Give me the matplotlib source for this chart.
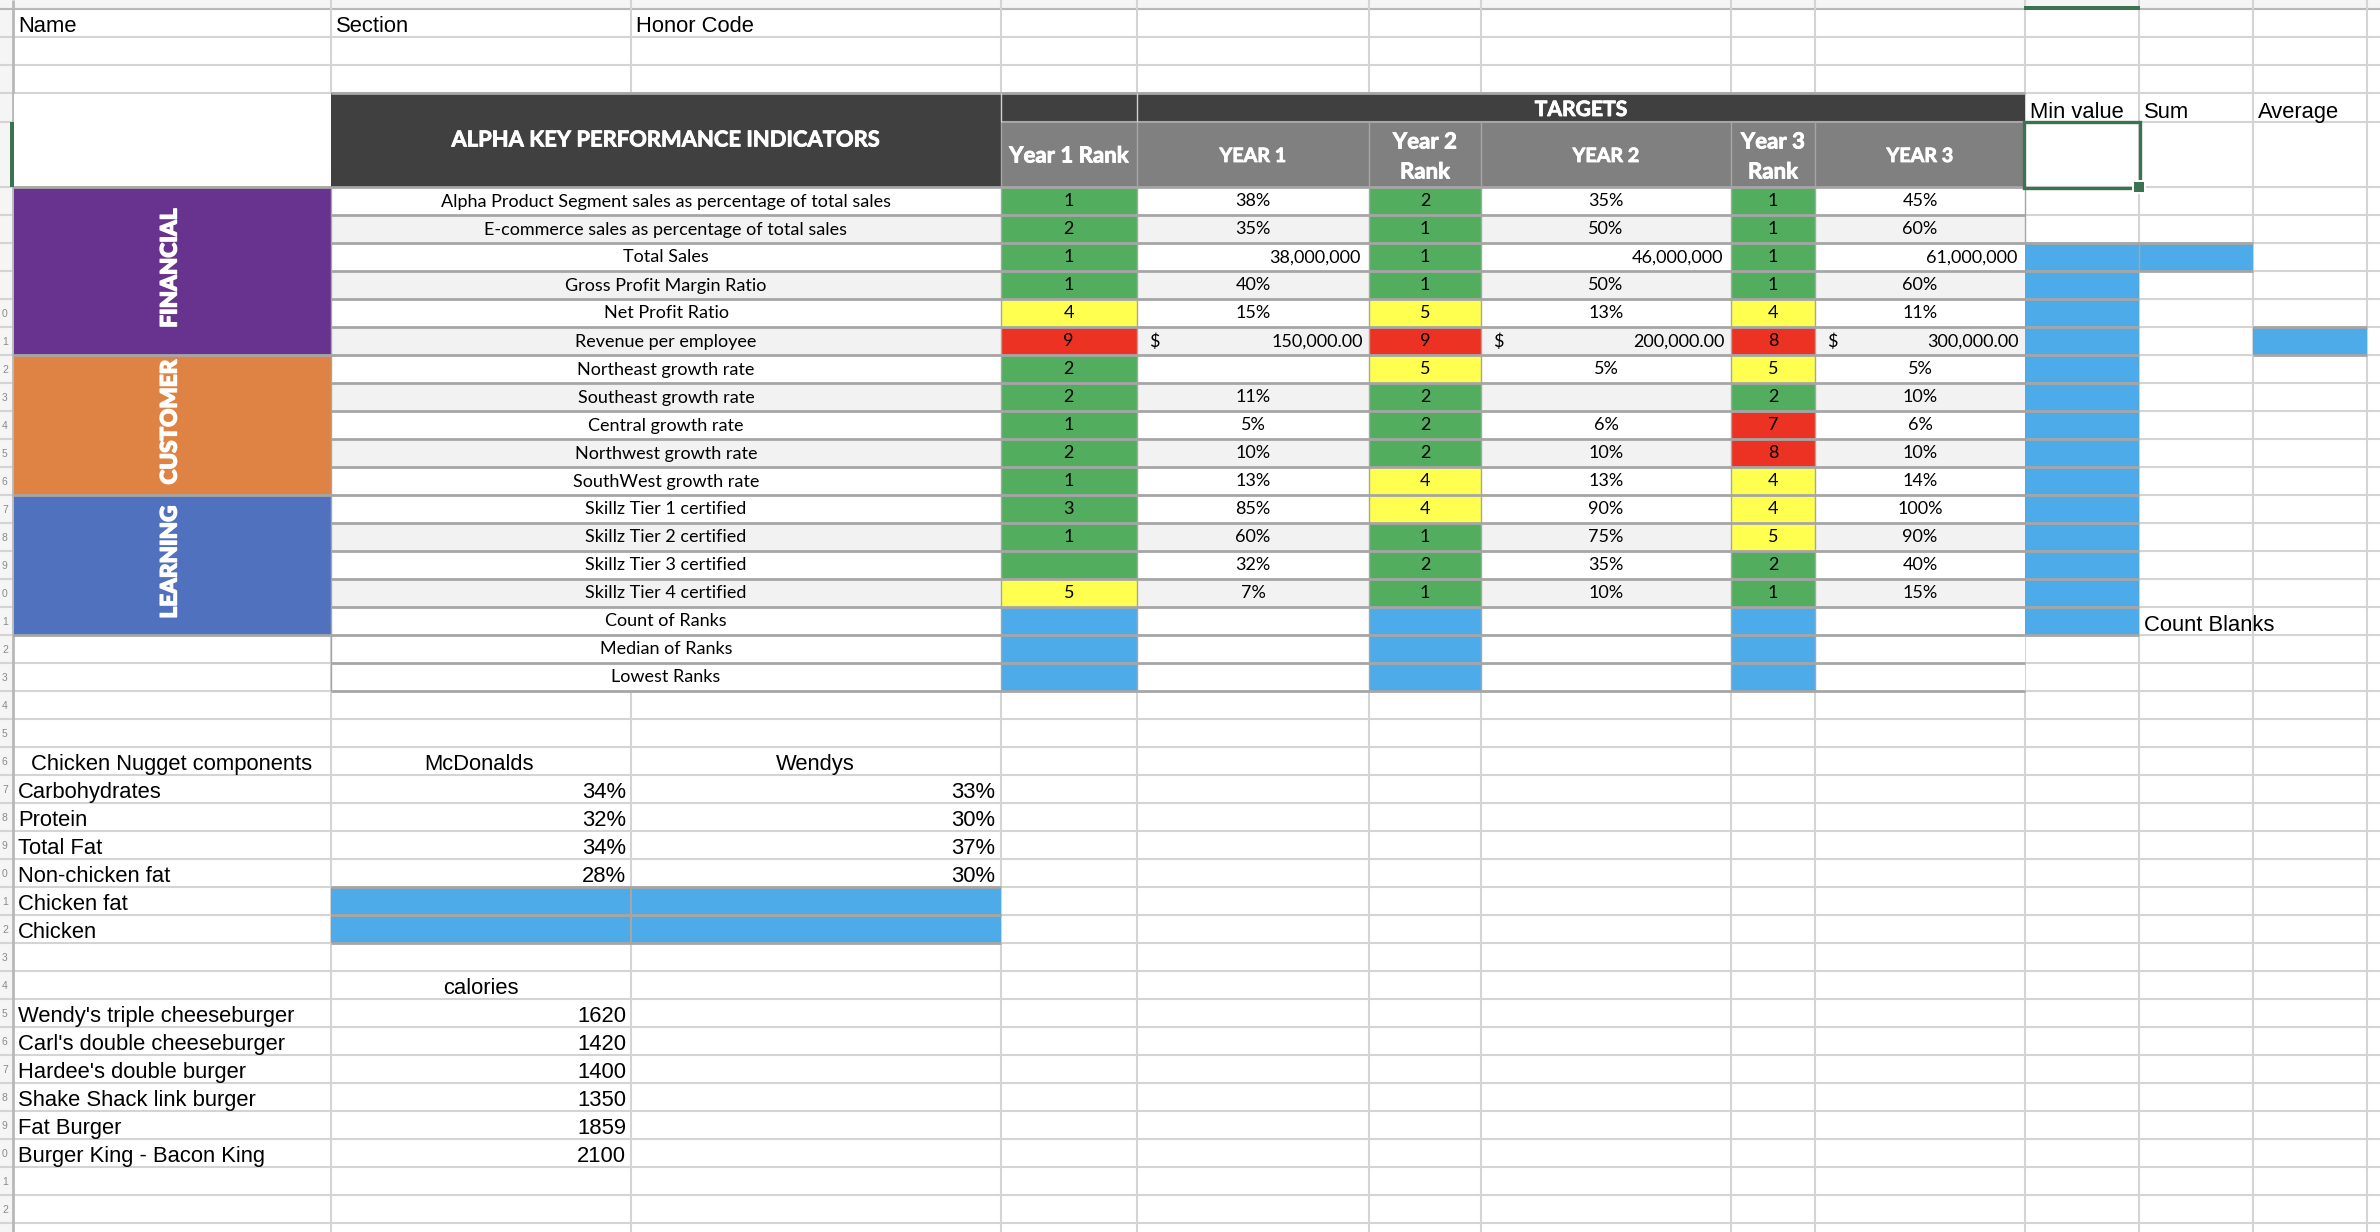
import matplotlib
matplotlib.use("Agg")
import matplotlib.pyplot as plt
import matplotlib.patheffects as pe
from matplotlib.patches import Rectangle

# KPI table
kpi_labels = ["Alpha Product Segment sales as percentage of total sales",
              "E-commerce sales as percentage of total sales",
              "Total Sales", "Gross Profit Margin Ratio", "Net Profit Ratio",
              "Revenue per employee", "Northeast growth rate", "Southeast growth rate",
              "Central growth rate", "Northwest growth rate", "SouthWest growth rate",
              "Skillz Tier 1 certified", "Skillz Tier 2 certified",
              "Skillz Tier 3 certified", "Skillz Tier 4 certified",
              "Count of Ranks", "Median of Ranks", "Lowest Ranks"]
y1_rank = [1, 2, 1, 1, 4, 9, 2, 2, 1, 2, 1, 3, 1, None, 5]
y2_rank = [2, 1, 1, 1, 5, 9, 5, 2, 2, 2, 4, 4, 1, 2, 1]
y3_rank = [1, 1, 1, 1, 4, 8, 5, 2, 7, 8, 4, 4, 5, 2, 1]
y1_vals = ["38%", "35%", "38,000,000", "40%", "15%", "$150,000.00", "", "11%", "5%",
           "10%", "13%", "85%", "60%", "32%", "7%"]
y2_vals = ["35%", "50%", "46,000,000", "50%", "13%", "$200,000.00", "5%", "", "6%",
           "10%", "13%", "90%", "75%", "35%", "10%"]
y3_vals = ["45%", "60%", "61,000,000", "60%", "11%", "$300,000.00", "5%", "10%", "6%",
           "10%", "14%", "100%", "90%", "40%", "15%"]
shaded_rows = [1, 3, 5, 7, 9, 12, 14]

# nugget table
nugget_labels = ["Carbohydrates", "Protein", "Total Fat", "Non-chicken fat", "Chicken fat", "Chicken"]
mcd_pct = ["34%", "32%", "34%", "28%", "", ""]
wendys_pct = ["33%", "30%", "37%", "30%", "", ""]

# burger table
burgers = ["Wendy's triple cheeseburger", "Carl's double cheeseburger", "Hardee's double burger",
           "Shake Shack link burger", "Fat Burger", "Burger King - Bacon King"]
calories = [1620, 1420, 1400, 1350, 1859, 2100]

# column edges in pixels
cols = [13, 331, 631, 1000.5, 1137, 1369, 1481, 1731, 1815, 2025, 2139, 2253, 2367, 2380]
LIGHT, DARK = "#D4D4D4", "#A6A6A6"
GREEN, YELLOW, RED, SKY = "#52AE5E", "#FFFF4F", "#EC3323", "#4EABE9"
SEL = "#3B7350"
ARIAL = "Liberation Sans"
CAL = "Lato"
FS_A, FS_C, FS_H = 15.8, 13, 16


def row_top(n):
    # row 5 is the tall header row
    if n <= 5:
        return [9, 37, 65, 93, 122][n - 1]
    return 187 + (n - 6) * 28


def rank_color(r):
    if r is None or r <= 3:
        return GREEN
    return YELLOW if r <= 6 else RED


fig = plt.figure(figsize=(23.8, 12.32), dpi=100)
ax = fig.add_axes([0, 0, 1, 1])
ax.set_xlim(0, 2380)
ax.set_ylim(1232, 0)
ax.axis("off")


def fill(x0, x1, y0, y1, color, z=3):
    ax.add_patch(Rectangle((x0, y0), x1 - x0, y1 - y0, facecolor=color, edgecolor="none", zorder=z))


def hline(y, x0, x1, color=DARK, lw=2, z=4):
    ax.plot([x0, x1], [y, y], color=color, lw=lw, zorder=z, solid_capstyle="butt")


def vline(x, y0, y1, color=DARK, lw=1, z=4):
    ax.plot([x, x], [y0, y1], color=color, lw=lw, zorder=z, solid_capstyle="butt")


def put(x, y, s, font=CAL, size=FS_C, ha="center", color="black", **kw):
    return ax.text(x, y, s, family=font, fontsize=size, ha=ha, va="center_baseline", color=color, zorder=5, **kw)


def arial(x, y, s, ha="left"):
    put(x, y + 1, s, font=ARIAL, size=FS_A, ha=ha)


def header(x, y, s, size=FS_H):
    # Lato bold is lighter than the original, thicken it a bit
    t = put(x, y, s, size=size, color="white", weight="bold")
    t.set_path_effects([pe.withStroke(linewidth=0.6, foreground="white")])


# sheet chrome
fill(0, 13, 0, 1232, "#F5F5F5", z=1)
fill(0, 2380, 0, 9, "#F5F5F5", z=1)
for n in range(1, 44):
    y = row_top(n)
    hline(y, 0, 2380, color=LIGHT, lw=1.5, z=2)
    if n >= 10:
        # the row header is mostly scrolled away, only the last digit shows
        put(2, y + 14, str(n)[-1], font=ARIAL, size=7.5, ha="left", color="#8A8A8A")
hline(9, 0, 2380, color="#B8B8B8", lw=1.5, z=2)
for x in cols[1:-1]:
    vline(x, 0, 1232, color=LIGHT, lw=1.5, z=2)
vline(13, 0, 1232, color="#B8B8B8", lw=2, z=2)

# merged areas hide the light grid
fill(14, 331, 94, 187, "white")
fill(331, 2025, 187, 691, "white")

# headers
fill(331, 1000.5, 93, 187, "#404040")
fill(1000.5, 2025, 93, 122, "#404040")
fill(1000.5, 2025, 122, 187, "#808080")
hline(93, 331, 2025)
hline(122, 1000.5, 2025, lw=1.5)
vline(1137, 93, 122, color="#D0D0D0")
vline(1000.5, 93, 122, color="#D0D0D0")
for x in [1000.5, 1137, 1369, 1481, 1731, 1815]:
    vline(x, 122, 187)

header(666, 138, "ALPHA KEY PERFORMANCE INDICATORS", size=15.8)
header(1581, 108, "TARGETS", size=15.2)
header(1069, 154, "Year 1 Rank")
header(1253, 154, "YEAR 1", size=14.2)
header(1425, 140, "Year 2")
header(1425, 170, "Rank")
header(1606, 154, "YEAR 2", size=14.2)
header(1773, 140, "Year 3")
header(1773, 170, "Rank")
header(1920, 154, "YEAR 3", size=14.2)

# side blocks
for name, color, r0, r1 in [("FINANCIAL", "#68338F", 0, 6), ("CUSTOMER", "#DF8344", 6, 11),
                            ("LEARNING", "#5072BE", 11, 16)]:
    y0, y1 = 187 + r0 * 28, 187 + r1 * 28
    fill(14, 331, y0, y1, color)
    t = ax.text(170, (y0 + y1) / 2 - 3, name, family=CAL, fontsize=16.2, color="white", weight=900,
                rotation=90, ha="center", va="center", zorder=5)
    t.set_path_effects([pe.withStroke(linewidth=1.0, foreground="white")])
    hline(y0, 13, 331)
hline(635, 13, 331)

# KPI rows
rank_cols = [(3, y1_rank), (5, y2_rank), (7, y3_rank)]
val_cols = [(4, y1_vals), (6, y2_vals), (8, y3_vals)]
for i, label in enumerate(kpi_labels):
    y0 = 187 + i * 28
    ym = y0 + 13
    if i in shaded_rows:
        fill(331, 2025, y0, y0 + 28, "#F2F2F2")
    put(666, ym, label)
    for c, ranks in rank_cols:
        if i < len(ranks):
            fill(cols[c], cols[c + 1], y0, y0 + 28, rank_color(ranks[i]))
            if ranks[i] is not None:
                put((cols[c] + cols[c + 1]) / 2, ym, str(ranks[i]))
        else:
            fill(cols[c], cols[c + 1], y0, y0 + 28, SKY)
    for c, vals in val_cols:
        if i >= len(vals) or not vals[i]:
            continue
        xl, xr = cols[c], cols[c + 1]
        v = vals[i]
        if v.startswith("$"):
            put(xl + 12, ym, "$", ha="left")
            put(xr - 6, ym, v[1:], ha="right")
        elif "," in v:
            put(xr - 8, ym, v, ha="right")
        else:
            put((xl + xr) / 2, ym, v)
for i in range(19):
    hline(187 + i * 28, 331, 2025)
for x in [331, 1000.5, 1137, 1369, 1481, 1731, 1815]:
    vline(x, 187, 691)
vline(2025, 187, 243)

# blue answer cells on the right
for i in range(2, 15 + 1):
    fill(2025, 2139, 187 + i * 28, 187 + (i + 1) * 28, SKY)
    hline(187 + i * 28, 2025, 2139)
hline(187 + 16 * 28, 2025, 2139)
fill(2139, 2253, 243, 271, SKY)
fill(2253, 2367, 327, 355, SKY)
hline(243, 2139, 2253)
hline(271, 2139, 2253)
hline(327, 2253, 2367)
hline(355, 2253, 2367)
vline(2139, 243, 271)

# selection box
ax.add_patch(Rectangle((2024, 122), 116, 66, facecolor="none", edgecolor=SEL, lw=2.4, zorder=6))
fill(2132, 2146, 180, 194, "white", z=6.5)
fill(2134, 2144, 182, 192, SEL, z=7)
fill(2024, 2140, 6, 10, SEL, z=7)
fill(10, 13.5, 122, 187, SEL, z=7)

# plain cell labels
arial(18, 23, "Name")
arial(336, 23, "Section")
arial(636, 23, "Honor Code")
arial(2030, 109, "Min value")
arial(2144, 109, "Sum")
arial(2258, 109, "Average")
arial(2144, 622, "Count Blanks")

# nugget table
arial(172, 761, "Chicken Nugget components", ha="center")
arial(479, 761, "McDonalds", ha="center")
arial(815, 761, "Wendys", ha="center")
for i, label in enumerate(nugget_labels):
    y0 = row_top(27 + i)
    arial(18, y0 + 14, label)
    if mcd_pct[i]:
        arial(626, y0 + 14, mcd_pct[i], ha="right")
        arial(995, y0 + 14, wendys_pct[i], ha="right")
    else:
        fill(331, 1000.5, y0, y0 + 28, SKY)
        hline(y0, 331, 1000.5)
        hline(y0 + 28, 331, 1000.5)
        vline(631, y0, y0 + 28, lw=1.5)

# burger table
arial(481, 985, "calories", ha="center")
for i, (b, cal) in enumerate(zip(burgers, calories)):
    y0 = row_top(35 + i)
    arial(18, y0 + 14, b)
    arial(626, y0 + 14, str(cal), ha="right")

fig.savefig("out.png", dpi=100, facecolor="white")
